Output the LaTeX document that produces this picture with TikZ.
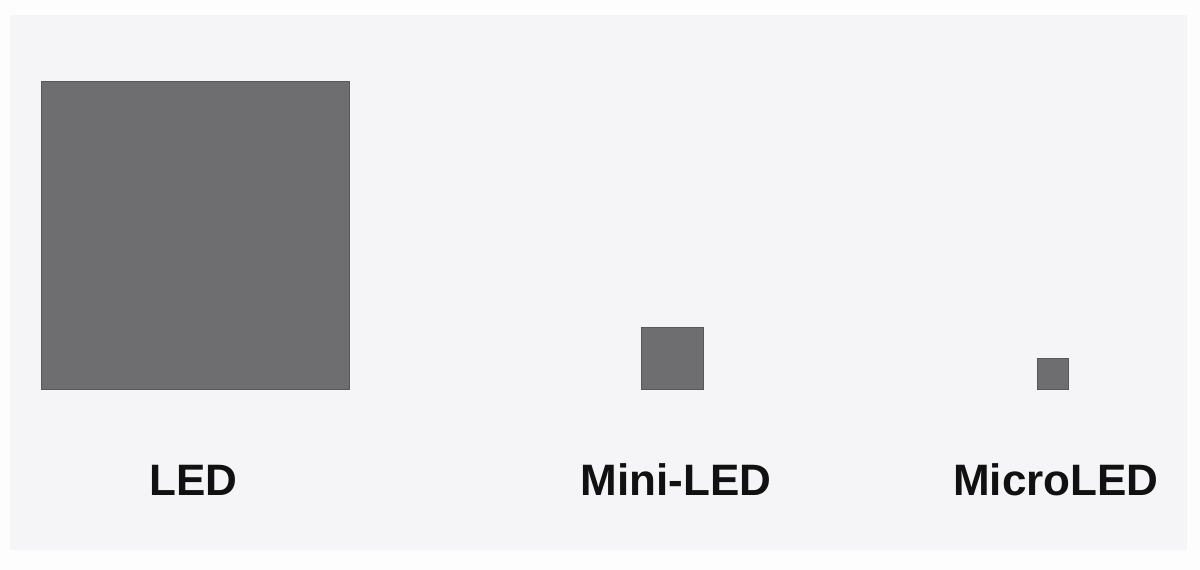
\documentclass[tikz,border=0pt]{standalone}
\usepackage{fontspec}
\setmainfont{Liberation Sans}
\definecolor{outerbg}{HTML}{FDFDFE}
\definecolor{panel}{HTML}{F5F5F7}
\definecolor{chip}{HTML}{6E6E70}
\definecolor{chipedge}{HTML}{58585A}
\definecolor{labelcol}{HTML}{111111}
\tikzset{
  chipbox/.style={fill=chip, draw=chipedge, line width=1pt, inner sep=0pt, outer sep=0pt},
  chiplabel/.style={anchor=base, inner sep=0pt, text=labelcol, font=\fontsize{44}{50}\selectfont\bfseries}
}
\begin{document}
\begin{tikzpicture}[x=1pt,y=-1pt]
\useasboundingbox (0,0) rectangle (1200,570);
\fill[outerbg] (0,0) rectangle (1200,570);
\fill[panel] (10,15) rectangle (1187,550);
% squares
\node[chipbox, minimum width=308pt, minimum height=308pt] (led) at (195,235) {};
\node[chipbox, minimum width=62pt, minimum height=62pt] (mini) at (672,358) {};
\node[chipbox, minimum width=31pt, minimum height=31pt] (micro) at (1053,374) {};
% labels
\node[chiplabel] (ledlabel) at (193.5,495) {LED};
\node[chiplabel] (minilabel) at (676,495) {Mini-LED};
\node[chiplabel] (microlabel) at (1056,495) {MicroLED};
\end{tikzpicture}
\end{document}
